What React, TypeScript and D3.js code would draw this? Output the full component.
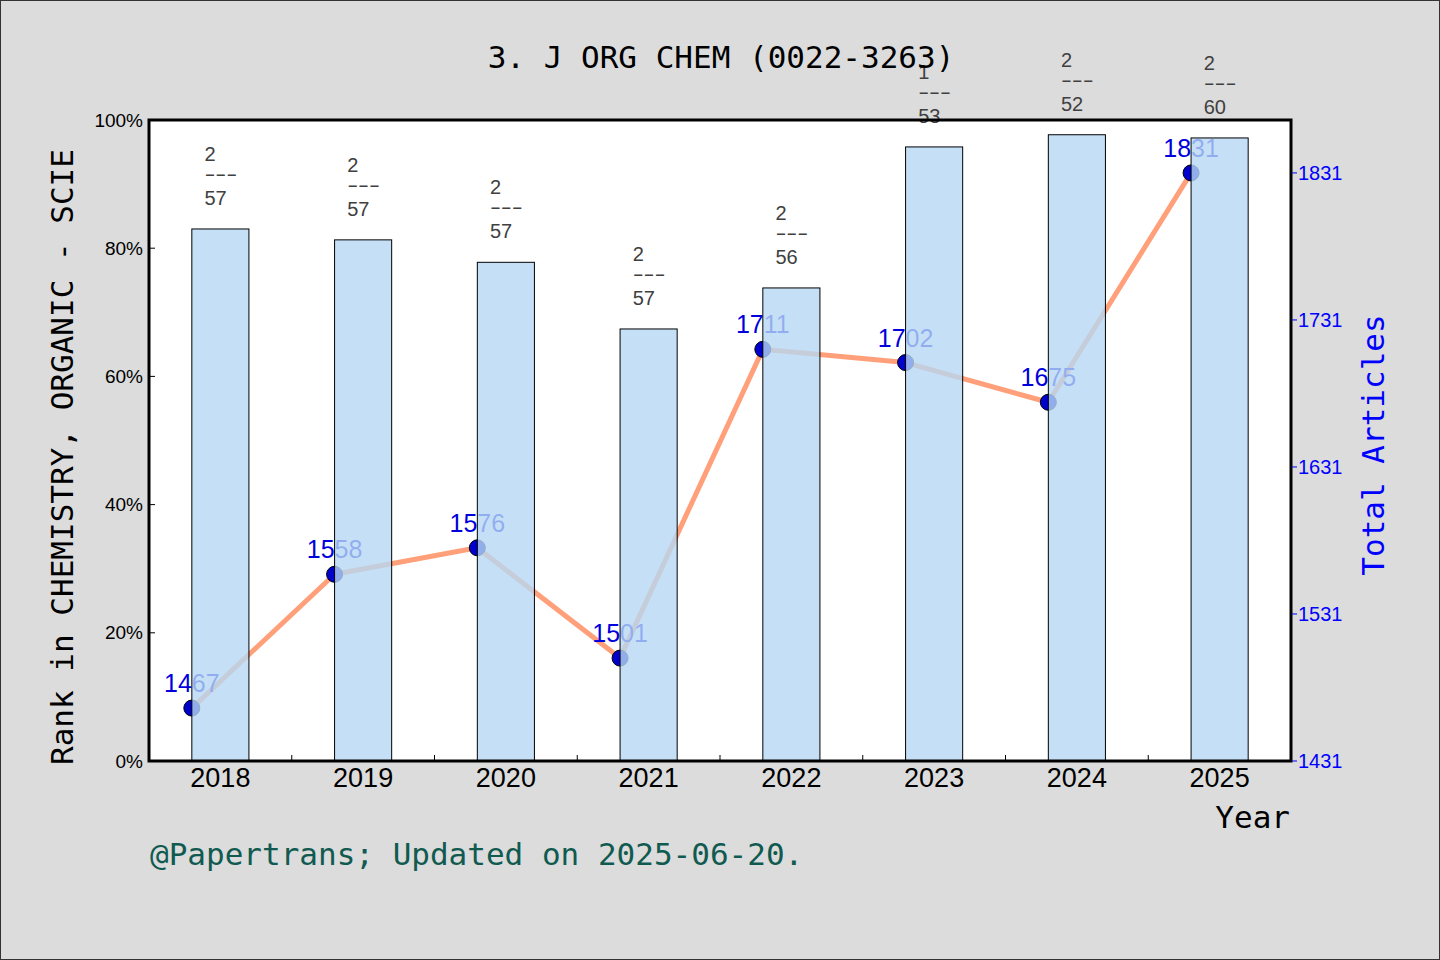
import React from 'react';
import {scaleBand, scaleLinear, line} from 'd3';

const years = ['2018', '2019', '2020', '2021', '2022', '2023', '2024', '2025'];
const rankPct = [0.830, 0.813, 0.778, 0.674, 0.738, 0.958, 0.977, 0.972];
const rankNum = ['2', '2', '2', '2', '2', '1', '2', '2'];
const rankDen = ['57', '57', '57', '57', '56', '53', '52', '60'];
const articles = [1467, 1558, 1576, 1501, 1711, 1702, 1675, 1831];
const leftTicks = [0, 0.2, 0.4, 0.6, 0.8, 1.0];
const rightTicks = [1431, 1531, 1631, 1731, 1831];

const W = 1440, H = 960;
const left = 149, right = 1291, top = 120, bottom = 761;
const sans = '"Liberation Sans", Arial, sans-serif';
const mono = '"DejaVu Sans Mono", "Liberation Mono", monospace';

const App = (): JSX.Element => {
    const x = scaleBand<string>().domain(years).range([left, right]).padding(0);
    const bw = x.bandwidth() * 0.4;
    const yL = scaleLinear().domain([0, 1]).range([bottom, top]);
    const yR = scaleLinear().domain([1431, 1867]).range([bottom, top]);

    // points sit on the bar's left edge
    const px = (i: number) => (x(years[i]) as number) + x.bandwidth() / 2 - bw / 2;
    const pts: [number, number][] = articles.map((v, i) => [px(i), yR(v)]);
    const path = line()(pts) as string;

    return (
        <svg width={W} height={H} viewBox={`0 0 ${W} ${H}`}
             style={{position: 'fixed', left: 0, top: 0}}>
            <rect x={0.5} y={0.5} width={W - 1} height={H - 1} fill="#dcdcdc" stroke="#333" />
            <rect x={left} y={top} width={right - left} height={bottom - top} fill="#fff" />

            {/* line + markers + labels (under the bars) */}
            <path d={path} fill="none" stroke="#ffa07a" strokeWidth={5} strokeLinejoin="round" />
            {pts.map(([cx, cy], i) => (
                <g key={'p' + i}>
                    <circle cx={cx} cy={cy} r={8} fill="#0000cd" stroke="#000" strokeWidth={1} />
                    <text x={cx} y={cy - 16} textAnchor="middle" fontFamily={sans} fontSize={25}
                          fill="#0000dd">{articles[i]}</text>
                </g>
            ))}

            {/* bars */}
            {years.map((yr, i) => {
                const cx = (x(yr) as number) + x.bandwidth() / 2;
                const ty = yL(rankPct[i]);
                return (
                    <g key={'b' + yr}>
                        <rect x={cx - bw / 2} y={ty} width={bw} height={bottom - ty}
                              fill="rgb(182,216,244)" fillOpacity={0.8} stroke="#000" strokeWidth={1} />
                        <g fontFamily={sans} fontSize={20} fill="#404040">
                            <text x={cx - 16} y={ty - 68}>{rankNum[i]}</text>
                            <text x={cx - 16} y={ty - 48} textLength={33}
                                  lengthAdjust="spacingAndGlyphs">---</text>
                            <text x={cx - 16} y={ty - 24}>{rankDen[i]}</text>
                        </g>
                    </g>
                );
            })}

            {/* frame */}
            <rect x={left} y={top} width={right - left} height={bottom - top} fill="none"
                  stroke="#000" strokeWidth={3} />

            {/* left axis */}
            {leftTicks.map(t => (
                <g key={'l' + t}>
                    <line x1={left} x2={left + 6} y1={yL(t)} y2={yL(t)} stroke="#000" />
                    <text x={left - 6} y={yL(t)} dy="0.35em" textAnchor="end" fontFamily={sans}
                          fontSize={19} fill="#000">{Math.round(t * 100) + '%'}</text>
                </g>
            ))}

            {/* right axis */}
            {rightTicks.map(t => (
                <g key={'r' + t}>
                    <line x1={right + 1} x2={right + 6} y1={yR(t)} y2={yR(t)} stroke="#0000ff" />
                    <text x={right + 7} y={yR(t)} dy="0.35em" fontFamily={sans}
                          fontSize={20} fill="#0000ff">{t}</text>
                </g>
            ))}

            {/* x axis */}
            {years.slice(1).map(yr => (
                <line key={'xt' + yr} x1={x(yr) as number} x2={x(yr) as number}
                      y1={bottom} y2={bottom - 6} stroke="#000" />
            ))}
            {years.map(yr => (
                <text key={'xl' + yr} x={(x(yr) as number) + x.bandwidth() / 2} y={787}
                      textAnchor="middle" fontFamily={sans} fontSize={27} fill="#000">{yr}</text>
            ))}

            {/* titles */}
            <text x={721} y={68} textAnchor="middle" fontFamily={mono} fontSize={31} fill="#000">
                3. J ORG CHEM (0022-3263)
            </text>
            <text transform={`translate(73,457) rotate(-90)`} textAnchor="middle" fontFamily={mono}
                  fontSize={31} fill="#000">Rank in CHEMISTRY, ORGANIC - SCIE</text>
            <text transform={`translate(1384,445) rotate(-90)`} textAnchor="middle" fontFamily={mono}
                  fontSize={31} fill="#0000ff">Total Articles</text>
            <text x={1290} y={828} textAnchor="end" fontFamily={mono} fontSize={31} fill="#000">Year</text>
            <text x={150} y={865} fontFamily={mono} fontSize={31} fill="#105a50">
                @Papertrans; Updated on 2025-06-20.
            </text>
        </svg>
    );
};

export default App;
